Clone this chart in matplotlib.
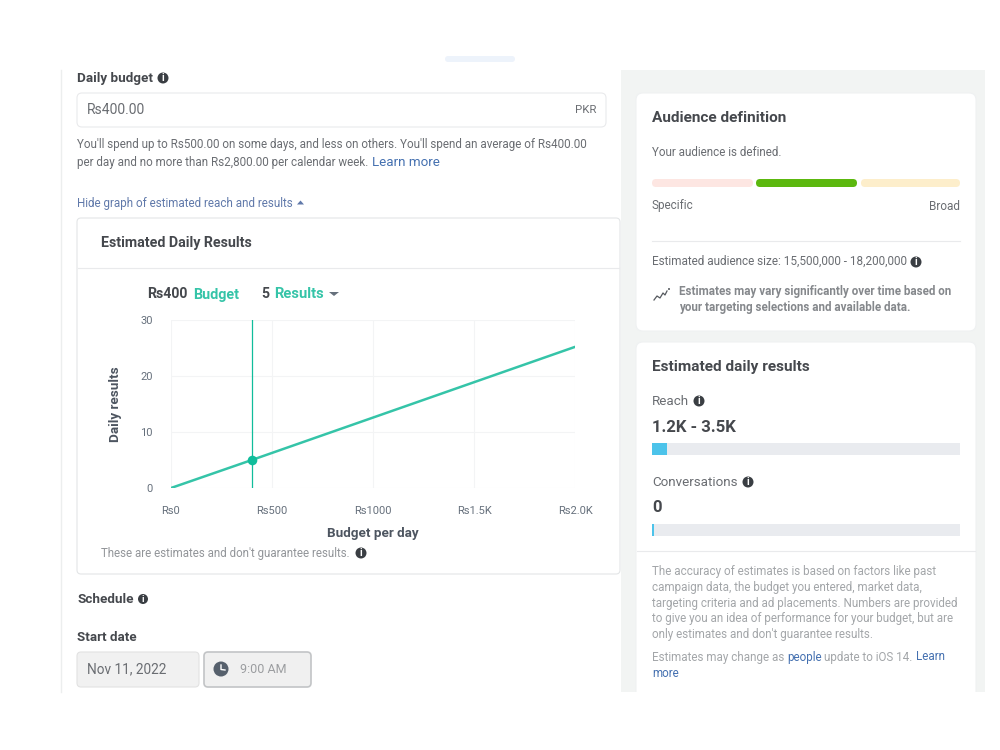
import matplotlib
matplotlib.use("Agg")
import matplotlib.pyplot as plt
from matplotlib.patches import FancyBboxPatch, Rectangle, Circle, Polygon

plt.rcParams.update({"font.family": ["Roboto", "DejaVu Sans"]})

# Chart data
budget = [0, 400, 2000]
results = [0, 5, 25.2]
current_budget = 400
current_results = 5
x_ticks = [0, 500, 1000, 1500, 2000]
x_labels = ["Rs0", "Rs500", "Rs1000", "Rs1.5K", "Rs2.0K"]
y_ticks = [0, 10, 20, 30]

# Progress bars, share of the track
reach_share = 0.049
conv_share = 0.007

TEAL = "#35c4a8"
DOT = "#10bd9b"
DARK = "#45484d"
GREY = "#6a6d72"
LIGHT = "#a3a6a9"
BLUE = "#4470b0"
AXIS = "#66707c"
BORDER = "#e9eaec"

fig = plt.figure(figsize=(10, 7.5), dpi=100)
ui = fig.add_axes([0, 0, 1, 1])
ui.set_xlim(0, 1000)
ui.set_ylim(750, 0)
ui.axis("off")


def box(x, y, w, h, r=5, fc="white", ec=BORDER, lw=0.8, z=1):
    ui.add_patch(FancyBboxPatch((x + r, y + r), w - 2 * r, h - 2 * r,
                                boxstyle=f"round,pad={r},rounding_size={r}",
                                fc=fc, ec=ec, lw=lw, zorder=z))


def label(x, y, s, size=9, color=GREY, weight="normal", ha="left"):
    return ui.text(x, y + 1, s, fontsize=size, color=color, fontweight=weight,
                   ha=ha, va="center", zorder=5)


def info(x, y, r=5.5, color="#3a3e43"):
    ui.add_patch(Circle((x, y), r, fc=color, ec="none", zorder=5))
    ui.text(x, y + 0.3, "i", fontsize=r * 1.35, color="white", fontweight="bold",
            ha="center", va="center", zorder=6)


# Page background
ui.add_patch(Rectangle((61, 70), 560, 622, fc="white", ec="none", zorder=0))
ui.plot([61, 61], [70, 692], color="#eceeee", lw=1, zorder=1)
ui.add_patch(Rectangle((621, 70), 364, 622, fc="#f2f4f3", ec="none", zorder=0))
box(445, 56, 70, 6, r=3, fc="#edf3fb", ec="none")

# Left column, budget
label(77, 77.5, "Daily budget", 9.7, DARK, "bold")
info(163, 78)
box(77, 93, 529, 34, r=5)
label(87, 109, "Rs400.00", 10, GREY)
label(596, 109, "PKR", 8.2, GREY, ha="right")
label(77, 143.5, "You'll spend up to Rs500.00 on some days, and less on others. You'll spend an average of Rs400.00", 8.38, GREY)
label(77, 161.5, "per day and no more than Rs2,800.00 per calendar week.", 8.38, GREY)
label(372, 161, "Learn more", 9.6, BLUE)
label(77, 202, "Hide graph of estimated reach and results", 8.35, "#6079aa")
ui.add_patch(Polygon([[297, 204.5], [304, 204.5], [300.5, 200.5]], fc="#6079aa", ec="none", zorder=5))

# Chart card
box(77, 218, 543, 356, r=4, ec="#e3e5e7")
ui.plot([78, 619], [268, 268], color=BORDER, lw=0.8, zorder=2)
label(101, 241.5, "Estimated Daily Results", 10.3, DARK, "bold")
label(147, 292.5, f"Rs{current_budget}", 10.2, DARK, "bold")
label(193, 293.5, "Budget", 10.4, TEAL, "bold")
label(261, 292.5, f"{current_results}", 10.2, DARK, "bold")
label(274, 292.5, "Results", 10.6, TEAL, "bold")
ui.add_patch(Polygon([[329, 292], [339, 292], [334, 296]], fc=AXIS, ec="none", zorder=5))

# Chart itself
ax = fig.add_axes([171 / 1000, 1 - 488 / 750, 404 / 1000, 168 / 750], zorder=3)
ax.patch.set_alpha(0)
ax.plot(budget, results, color=TEAL, lw=1.8, solid_capstyle="round", zorder=3)
ax.axvline(current_budget, color=DOT, lw=0.9, zorder=2)
ax.scatter([current_budget], [current_results], s=48, color=DOT, linewidths=0, zorder=4)
ax.set_xlim(0, 2000)
ax.set_ylim(0, 30)
ax.set_xticks(x_ticks)
ax.set_xticklabels(x_labels)
ax.set_yticks(y_ticks)
ax.tick_params(length=0, labelsize=8, labelcolor=AXIS)
ax.tick_params(axis="x", pad=13)
ax.tick_params(axis="y", pad=13)
ax.grid(color="#f3f4f5", lw=0.8)
ax.set_axisbelow(True)
for s in ax.spines.values():
    s.set_visible(False)
ax.set_xlabel("Budget per day", fontsize=9.7, fontweight="bold", color="#4d5560", labelpad=8)
ax.set_ylabel("Daily results", fontsize=9.7, fontweight="bold", color="#4d5560", labelpad=13.5)

label(101, 553, "These are estimates and don't guarantee results.", 8.3, "#929599")
info(361, 553)

# Schedule
label(77, 598.5, "Schedule", 9.7, DARK, "bold")
info(143, 599, r=5)
label(77, 636.5, "Start date", 9.6, DARK, "bold")
box(77, 652, 122, 35, r=4, fc="#f1f1f1", ec="#e2e2e2")
label(87, 668.5, "Nov 11, 2022", 9.8, GREY)
box(204, 652, 107, 35, r=4, fc="#f0f0f0", ec="#c2c4c6", lw=1.2)
ui.add_patch(Circle((221, 669), 7.5, fc="#56606c", ec="none", zorder=5))
ui.plot([221, 221, 225], [665, 669.5, 670], color="white", lw=1, zorder=6)
label(240, 668.5, "9:00 AM", 9, "#9b9da0")

# Audience card
box(636, 93, 340, 238, r=7, ec="#eff1f2")
label(652, 117, "Audience definition", 11.1, DARK, "bold")
label(652, 151, "Your audience is defined.", 8.4, GREY)
box(652, 179, 101, 8, r=4, fc="#fde6e2", ec="none", z=2)
box(756, 179, 101, 8, r=4, fc="#5cb80e", ec="none", z=2)
box(861, 179, 99, 8, r=4, fc="#fdeecb", ec="none", z=2)
label(652, 205, "Specific", 8.5, GREY)
label(960, 205, "Broad", 8.5, GREY, ha="right")
ui.plot([652, 960], [240.5, 240.5], color=BORDER, lw=0.8, zorder=2)
label(652, 260, "Estimated audience size: 15,500,000 - 18,200,000", 8.45, GREY)
info(916, 262)
ui.plot([654, 657, 660, 663, 665, 667], [300, 296, 298, 293, 295, 291], color="#55595e", lw=0.9, zorder=5)
ui.add_patch(Circle((669, 289), 1, fc="#55595e", ec="none", zorder=5))
label(679, 291, "Estimates may vary significantly over time based on", 8.4, "#85888c", "bold")
label(679, 306.5, "your targeting selections and available data.", 8.4, "#85888c", "bold")

# Estimated results card
box(636, 342, 340, 360, r=7, ec="#eff1f2")
ui.add_patch(Rectangle((622, 692), 378, 58, fc="white", ec="none", zorder=3))
label(652, 365.5, "Estimated daily results", 11.1, DARK, "bold")
label(652, 400.5, "Reach", 9.6, GREY)
info(699, 401)
label(652, 426, "1.2K - 3.5K", 12.1, DARK, "bold")
ui.add_patch(Rectangle((652, 443), 308, 12, fc="#e9ebef", ec="none", zorder=2))
ui.add_patch(Rectangle((652, 443), 308 * reach_share, 12, fc="#4cc3ea", ec="none", zorder=3))
label(652, 481.5, "Conversations", 9.6, GREY)
info(748, 482)
label(652, 507, "0", 12.1, DARK, "bold")
ui.add_patch(Rectangle((652, 524), 308, 12, fc="#e9ebef", ec="none", zorder=2))
ui.add_patch(Rectangle((652, 524), 308 * conv_share, 12, fc="#4cc3ea", ec="none", zorder=3))
ui.plot([637, 975], [551, 551], color=BORDER, lw=0.8, zorder=2)
note = ["The accuracy of estimates is based on factors like past",
        "campaign data, the budget you entered, market data,",
        "targeting criteria and ad placements. Numbers are provided",
        "to give you an idea of performance for your budget, but are",
        "only estimates and don't guarantee results."]
for i, line in enumerate(note):
    label(652, 571 + i * 15.6, line, 8.4, LIGHT)
label(652, 656, "Estimates may change as", 8.4, LIGHT)
label(787, 656, "people", 8.4, BLUE)
label(824, 656, "update to iOS 14.", 8.4, LIGHT)
label(916, 656, "Learn", 8.4, BLUE)
label(652, 672.5, "more", 8.4, BLUE)

fig.savefig("out.png", dpi=100)
plt.close()
